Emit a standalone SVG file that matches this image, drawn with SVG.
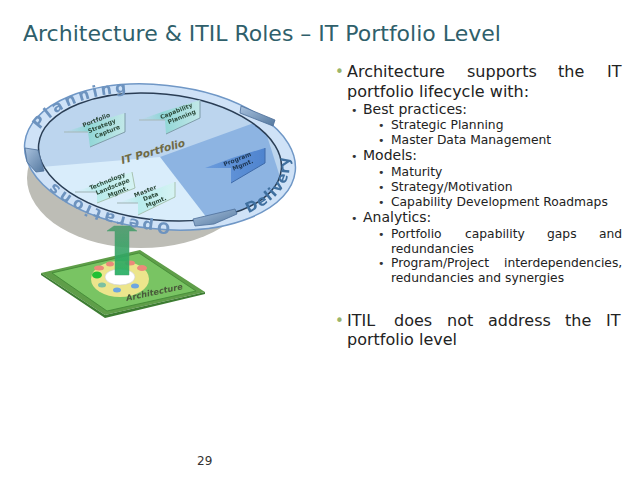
<svg xmlns="http://www.w3.org/2000/svg" width="638" height="478" viewBox="0 0 638 478">
<style>
text{font-family:"DejaVu Sans",Verdana,sans-serif;fill:#222}
.t{font-size:22px;fill:#2f5f6b}
.l1{font-size:16px}.l2{font-size:14px}.l3{font-size:12.3px}
.b{fill:#9bb56a;font-size:15px}
.d{fill:#333;font-size:11px}
.ring{font-size:15.5px;font-weight:bold;fill:#6d93bf;letter-spacing:2.6px}
.n{font-size:6px;font-weight:bold;fill:#2c4a3a;text-anchor:middle}
.tail{stroke:#a9bcc0;stroke-width:1.2;fill:none}
.edge{stroke:#7f9ca8;stroke-width:1;fill:none}
.tab{fill:url(#tab);stroke:#4d6f99;stroke-width:.8}
</style>
<defs>
<clipPath id="disc"><ellipse cx="160" cy="157" rx="122" ry="63" transform="rotate(6 160 157)"/></clipPath>
<filter id="soft" x="-5%" y="-5%" width="110%" height="110%"><feGaussianBlur stdDeviation=".35"/></filter>
<linearGradient id="arrow" x1="0" y1="0" x2="0" y2="1"><stop offset="0" stop-color="#4f9a6e"/><stop offset="1" stop-color="#1fae5e"/></linearGradient>
<linearGradient id="teal" x1="0" y1="0" x2="1" y2="0"><stop offset="0" stop-color="#a5dcdc" stop-opacity="0"/><stop offset=".38" stop-color="#8fd6d6"/><stop offset="1" stop-color="#c2e8e8"/></linearGradient>
<linearGradient id="pale" x1="0" y1="0" x2="1" y2="0"><stop offset="0" stop-color="#c9eeee" stop-opacity="0"/><stop offset=".38" stop-color="#b8ecec"/><stop offset="1" stop-color="#d6f3f3"/></linearGradient>
<linearGradient id="blue" x1="0" y1="0" x2="1" y2="0"><stop offset="0" stop-color="#6a9bdc"/><stop offset="1" stop-color="#4f84cf"/></linearGradient>
<linearGradient id="tab" x1="0" y1="0" x2="1" y2="1"><stop offset="0" stop-color="#a9c2de"/><stop offset="1" stop-color="#54789f"/></linearGradient>
<path id="pPlan" d="M40 130 A124 65 6 0 1 150 92"/>
<path id="pDel" d="M248 213 A130 67 6 0 0 275.5 135.5"/>
<path id="pOps" d="M170.4 222.8 A124 65 6 0 1 37 153"/>
</defs>
<text class="t" x="23" y="41">Architecture &amp; ITIL Roles – IT Portfolio Level</text>

<g id="wheel" filter="url(#soft)">
<ellipse cx="141" cy="178" rx="114" ry="70" fill="#bdbdb6"/>
<ellipse cx="160" cy="157" rx="136" ry="72" transform="rotate(6 160 157)" fill="#cfe2f7" stroke="#6f97c6" stroke-width="1.5"/>
<ellipse cx="160" cy="157" rx="122" ry="63" transform="rotate(6 160 157)" fill="#bcd5ee"/>
<g clip-path="url(#disc)">
<path d="M160 157 L262 120 L300 240 L207 230 Z" fill="#8db4e2"/>
<path d="M160 157 L207 218 L190 240 L30 240 L30 168 Z" fill="#d9edfb"/>
</g>
<ellipse cx="160" cy="157" rx="122" ry="63" transform="rotate(6 160 157)" fill="none" stroke="#2a3e55" stroke-width="1.5"/>
<path class="tab" d="M241 106 L275 120 L273 126 L240 113 Z"/>
<path class="tab" d="M25 148 L38 150 L44 171 L36 172 L27 162 Z"/>
<path class="tab" d="M193 219 L235 209 L237 214 L214 224 L195 226 Z"/>
<text class="ring" style="letter-spacing:3px"><textPath href="#pPlan">Planning</textPath></text>
<text class="ring" style="fill:#3f6f9f;font-size:14.5px;letter-spacing:1.2px"><textPath href="#pDel">Delivery</textPath></text>
<text class="ring" style="letter-spacing:3.2px"><textPath href="#pOps">Operations</textPath></text>
</g>

<g id="portfolio-strategy" filter="url(#soft)">
<polygon fill="url(#teal)" points="64,132 90,124 125,113 125,132 90,147 88,132"/>
<path class="tail" d="M64 132 H88"/><path class="edge" d="M125 113 V132 L90 147"/>
<text class="n" transform="translate(97 122) rotate(-22)"><tspan x="0" y="0">Portfolio</tspan><tspan x="3" y="7.4">Strategy</tspan><tspan x="6" y="14.8">Capture</tspan></text>
</g>
<g id="capability-planning" filter="url(#soft)">
<polygon fill="url(#teal)" points="139,120 165,111 200,100 200,118 166,134 165,120"/>
<path class="tail" d="M139 120 H165"/><path class="edge" d="M200 100 V118 L166 134"/>
<text class="n" transform="translate(177 113) rotate(-22)"><tspan x="0" y="0">Capability</tspan><tspan x="3" y="7.4">Planning</tspan></text>
</g>
<g id="program-mgmt" filter="url(#soft)">
<polygon fill="url(#blue)" points="205,168 232,158 265,148 265,163 231,183 231,168"/>
<path d="M265 148 V163 L231 183" stroke="#3f6aa8" fill="none"/>
<text class="n" transform="translate(238 161) rotate(-22)" style="fill:#1d3550"><tspan x="0" y="0">Program</tspan><tspan x="3" y="7.4">Mgmt.</tspan></text>
</g>
<g id="technology-landscape" filter="url(#soft)">
<polygon fill="url(#pale)" points="75,192 97,184 132,172 135,188 97,203 97,192"/>
<path class="tail" d="M75 192 H97"/><path class="edge" style="stroke:#a7c2b0" d="M132 172 L135 188 L97 203"/>
<text class="n" transform="translate(108 183) rotate(-22)"><tspan x="0" y="0">Technology</tspan><tspan x="3" y="7">Landscape</tspan><tspan x="6" y="14">Mgmt.</tspan></text>
</g>
<g id="master-data" filter="url(#soft)">
<polygon fill="url(#pale)" points="117,203 138,196 175,182 175,197 138,215 138,203"/>
<path class="tail" d="M117 203 H138"/><path class="edge" style="stroke:#a7c2b0" d="M175 182 V197 L138 215"/>
<text class="n" transform="translate(146 193) rotate(-22)"><tspan x="0" y="0">Master</tspan><tspan x="3" y="7">Data</tspan><tspan x="6" y="14">Mgmt.</tspan></text>
</g>
<text id="it-portfolio" transform="translate(154 155) rotate(-16)" text-anchor="middle" style="font-size:10.5px;font-weight:bold;font-style:italic;fill:#6f6a45">IT Portfolio</text>

<g id="architecture" filter="url(#soft)">
<polygon points="41,273 140,250 205,292 105,315" fill="#5e9e48"/>
<polygon points="52,273 139,253 196,291 107,311" fill="#79c463" stroke="#3f8734" stroke-width=".8"/>
<polygon points="41,273 105,315 205,292 205,294 105,318 41,275" fill="#3d7d33"/>
<ellipse cx="120" cy="279" rx="29" ry="18" fill="#ece58c"/>
<ellipse cx="99" cy="268" rx="5" ry="2.5" fill="#ec8a7a"/><ellipse cx="142" cy="268" rx="5" ry="3" fill="#ec8a7a"/><ellipse cx="130" cy="263" rx="5" ry="2.5" fill="#ec8a7a"/><ellipse cx="110" cy="264" rx="4" ry="2.5" fill="#ec8a7a"/>
<ellipse cx="97" cy="275" rx="5" ry="3.5" fill="#22c034"/>
<ellipse cx="117" cy="290" rx="4" ry="2.5" fill="#6ea6e0"/><ellipse cx="135" cy="286" rx="4" ry="2.5" fill="#6ea6e0"/><ellipse cx="102" cy="285" rx="4" ry="2.5" fill="#7cc0a0"/>
<ellipse cx="120" cy="277" rx="15" ry="8" fill="#fff" stroke="#ccc" stroke-width=".6"/>
<text transform="translate(155 295) rotate(-12)" text-anchor="middle" style="font-size:8.2px;font-weight:bold;font-style:italic;fill:#4a5a3a">Architecture</text>
</g>
<g id="connectors">
<path filter="url(#soft)" d="M115 275 V231 H107 L114 226 H130 L137 231 H129 V275 Z" fill="url(#arrow)" fill-opacity=".9" stroke="#4aa070" stroke-width=".5"/>
</g>

<g id="bullets">
<text class="b" x="335" y="77">•</text>
<text class="l1" y="77"><tspan x="347">Architecture</tspan><tspan x="467">supports</tspan><tspan x="558">the</tspan><tspan x="607">IT</tspan></text>
<text class="l1" x="347" y="97">portfolio lifecycle with:</text>
<text class="d" x="351" y="114">•</text><text class="l2" x="363" y="114">Best practices:</text>
<text class="d" x="378" y="129">•</text><text class="l3" x="391" y="129">Strategic Planning</text>
<text class="d" x="378" y="144">•</text><text class="l3" x="391" y="144">Master Data Management</text>
<text class="d" x="351" y="160">•</text><text class="l2" x="363" y="160">Models:</text>
<text class="d" x="378" y="176">•</text><text class="l3" x="391" y="176">Maturity</text>
<text class="d" x="378" y="191">•</text><text class="l3" x="391" y="191">Strategy/Motivation</text>
<text class="d" x="378" y="206">•</text><text class="l3" x="391" y="206">Capability Development Roadmaps</text>
<text class="d" x="351" y="222">•</text><text class="l2" x="363" y="222">Analytics:</text>
<text class="d" x="378" y="238">•</text><text class="l3" y="238"><tspan x="391">Portfolio</tspan><tspan x="465">capability</tspan><tspan x="547">gaps</tspan><tspan x="599">and</tspan></text>
<text class="l3" x="391" y="253">redundancies</text>
<text class="d" x="378" y="267">•</text><text class="l3" y="267"><tspan x="391">Program/Project</tspan><tspan x="504">interdependencies,</tspan></text>
<text class="l3" x="391" y="282">redundancies and synergies</text>
<text class="b" x="335" y="326">•</text>
<text class="l1" y="326"><tspan x="347">ITIL</tspan><tspan x="394">does</tspan><tspan x="447">not</tspan><tspan x="488">address</tspan><tspan x="565">the</tspan><tspan x="606">IT</tspan></text>
<text class="l1" x="347" y="345">portfolio level</text>
</g>
<text id="page" x="197" y="465" style="font-size:12px;fill:#333">29</text>
</svg>
